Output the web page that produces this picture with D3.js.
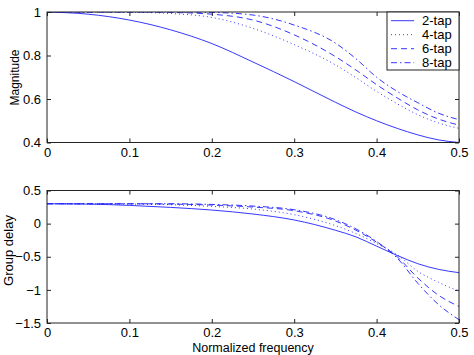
<!DOCTYPE html>
<html><head><meta charset="utf-8">
<script src="https://cdn.jsdelivr.net/npm/d3@7"></script>
<style>body{margin:0;background:#fff}svg{display:block}text{font-family:"Liberation Sans",Arial,Helvetica,sans-serif;fill:#000}</style>
</head><body><svg id="c" width="474" height="355"></svg>
<script>
// ---- data ----
const freq = [0, 0.05, 0.1, 0.15, 0.2, 0.25, 0.3, 0.35, 0.375, 0.4, 0.425, 0.45, 0.475, 0.5];
const seriesNames = ["2-tap", "4-tap", "6-tap", "8-tap"];
const mag2 = [1, 0.99, 0.963, 0.918, 0.855, 0.77, 0.68, 0.585, 0.54, 0.5, 0.465, 0.435, 0.412, 0.40];
const mag4 = [1, 1, 0.999, 0.993, 0.975, 0.925, 0.85, 0.757, 0.698, 0.635, 0.578, 0.528, 0.49, 0.465];
const mag6 = [1, 1, 1, 0.998, 0.99, 0.963, 0.895, 0.795, 0.733, 0.666, 0.605, 0.55, 0.508, 0.48];
const mag8 = [1, 1, 1, 1, 0.998, 0.986, 0.94, 0.857, 0.785, 0.70, 0.635, 0.583, 0.535, 0.505];
const gd2 = [0.30, 0.295, 0.275, 0.245, 0.205, 0.145, 0.055, -0.10, -0.20, -0.34, -0.48, -0.605, -0.69, -0.74];
const gd4 = [0.30, 0.30, 0.295, 0.285, 0.26, 0.22, 0.135, -0.03, -0.15, -0.30, -0.47, -0.72, -0.885, -1.02];
const gd6 = [0.30, 0.30, 0.30, 0.295, 0.28, 0.25, 0.195, 0.04, -0.10, -0.28, -0.50, -0.82, -1.08, -1.25];
const gd8 = [0.30, 0.30, 0.30, 0.30, 0.29, 0.265, 0.21, 0.06, -0.08, -0.27, -0.52, -0.90, -1.22, -1.45];
const xTicks = [0, 0.1, 0.2, 0.3, 0.4, 0.5];
const magTicks = [0.4, 0.6, 0.8, 1];
const gdTicks = [-1.5, -1, -0.5, 0, 0.5];

// ---- styles ----
const dashes = ["none", "1,3", "6,4", "6,3,1.5,3"];
const lineColor = "#2020ff";
const svg = d3.select("#c");
const X0 = 47, X1 = 459;
const x = d3.scaleLinear().domain([0, 0.5]).range([X0, X1]);
const fmt = d => d3.format("")(d);

function panel(top, bottom, yDomain, yTicks, data, ylabel, id, lab) {
  const y = d3.scaleLinear().domain(yDomain).range([bottom, top]);
  const g = svg.append("g");
  g.append("clipPath").attr("id", id).append("rect")
    .attr("x", X0).attr("y", top).attr("width", X1 - X0).attr("height", bottom - top);
  const line = d3.line().x((d, i) => x(freq[i])).y(d => y(d)).curve(d3.curveMonotoneX);
  data.forEach((s, k) => {
    g.append("path").attr("d", line(s)).attr("fill", "none")
      .attr("stroke", lineColor).attr("stroke-width", 0.9)
      .attr("stroke-dasharray", dashes[k]).attr("clip-path", `url(#${id})`);
  });
  const tl = 4;
  const ax = d3.axisBottom(x).tickValues(xTicks).tickSize(tl).tickPadding(4).tickFormat(fmt);
  const gx = g.append("g").attr("transform", `translate(0,${bottom})`).call(ax);
  gx.selectAll(".tick line").attr("y2", -tl);
  const axT = g.append("g").attr("transform", `translate(0,${top})`).call(d3.axisTop(x).tickValues(xTicks).tickSize(-tl).tickFormat(""));
  const ay = d3.axisLeft(y).tickValues(yTicks).tickSize(-tl).tickPadding(6).tickFormat(fmt);
  const gy = g.append("g").attr("transform", `translate(${X0},0)`).call(ay);
  const axR = g.append("g").attr("transform", `translate(${X1},0)`).call(d3.axisRight(y).tickValues(yTicks).tickSize(-tl).tickFormat(""));
  [gx, axT, gy, axR].forEach(a => {
    a.select(".domain").remove();
    a.selectAll(".tick line").attr("stroke", "#222");
    a.selectAll("text").style("font-size", "13px").attr("fill", "#000");
  });
  gx.selectAll("text").attr("y", 0).attr("dy", 0).attr("transform", "translate(0,14.3)");
  g.append("rect").attr("x", X0).attr("y", top).attr("width", X1 - X0).attr("height", bottom - top)
    .attr("fill", "none").attr("stroke", "#222").attr("stroke-width", 1);
  g.append("text").attr("transform", `translate(${lab.x},${lab.y}) rotate(-90)`)
    .attr("text-anchor", "middle").style("font-size", lab.size).text(ylabel);
  return {g, y};
}

panel(12, 142.5, [0.4, 1], magTicks, [mag2, mag4, mag6, mag8], "Magnitude", "cm", {x: 18.5, y: 77.5, size: "12px"});
panel(190.5, 323, [-1.5, 0.5], gdTicks, [gd2, gd4, gd6, gd8], "Group delay", "cg", {x: 12.5, y: 250.5, size: "13px"});

svg.append("text").attr("x", (X0 + X1) / 2).attr("y", 351.5).attr("text-anchor", "middle")
  .style("font-size", "12.5px").text("Normalized frequency");

// legend
const lg = svg.append("g");
const LX = 387, LY = 12, LW = 72, LH = 58;
lg.append("rect").attr("x", LX).attr("y", LY).attr("width", LW).attr("height", LH)
  .attr("fill", "#fff").attr("stroke", "#222").attr("stroke-width", 1);
seriesNames.forEach((n, k) => {
  const yy = LY + 8.7 + k * 14;
  lg.append("line").attr("x1", LX + 4).attr("x2", LX + 27).attr("y1", yy).attr("y2", yy)
    .attr("stroke", lineColor).attr("stroke-width", 0.9).attr("stroke-dasharray", dashes[k]);
  lg.append("text").attr("x", LX + 35).attr("y", yy).attr("dy", "0.35em")
    .style("font-size", "13px").text(n);
});
</script></body></html>
